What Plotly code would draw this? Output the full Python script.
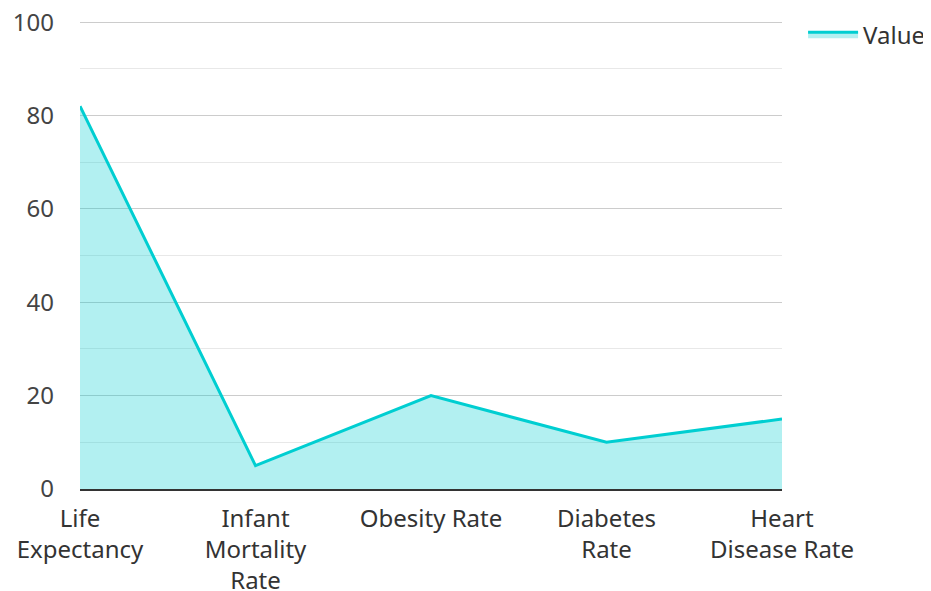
import plotly.graph_objects as go

categories = ["Life<br>Expectancy", "Infant<br>Mortality<br>Rate", "Obesity Rate", "Diabetes<br>Rate", "Heart<br>Disease Rate"]
values = [82, 5, 20, 10, 15]
series_name = "Value"

fig = go.Figure()
fig.add_trace(go.Scatter(
    x=list(range(len(categories))), y=values, name=series_name, mode="lines",
    line=dict(color="#00CED1", width=3), fill="tozeroy",
    fillcolor="rgba(0,206,209,0.3)"))

fig.update_layout(
    width=931, height=591,
    margin=dict(l=72, r=157, t=13, b=110),
    paper_bgcolor="white", plot_bgcolor="white",
    font=dict(family="Noto Sans", size=24, color="#333333"),
    showlegend=True,
    legend=dict(x=0.854, y=0.993, xanchor="left", yanchor="top",
                xref="container", yref="container",
                itemwidth=50,
                font=dict(size=24, color="#333333"), bgcolor="rgba(0,0,0,0)"),
    xaxis=dict(range=[0, 4], tickmode="array", tickvals=list(range(len(categories))),
               ticktext=categories, showgrid=False, zeroline=False, automargin=False,
               showline=True, linecolor="#333333", linewidth=2,
               ticklabelstandoff=7, ticklabeloverflow="allow",
               tickfont=dict(size=24, color="#333333"), ticks=""),
    yaxis=dict(range=[0, 100.25], tickvals=[0, 20, 40, 60, 80, 100], showgrid=True,
               gridcolor="#cccccc", gridwidth=1, automargin=False,
               minor=dict(tickvals=[10, 30, 50, 70, 90], showgrid=True, gridcolor="#e8e8e8", gridwidth=1),
               zeroline=False, showline=False, ticks="",
               ticklabelstandoff=25, ticklabeloverflow="allow",
               tickfont=dict(size=24, color="#444444")),
)

fig.write_html("out.html")
